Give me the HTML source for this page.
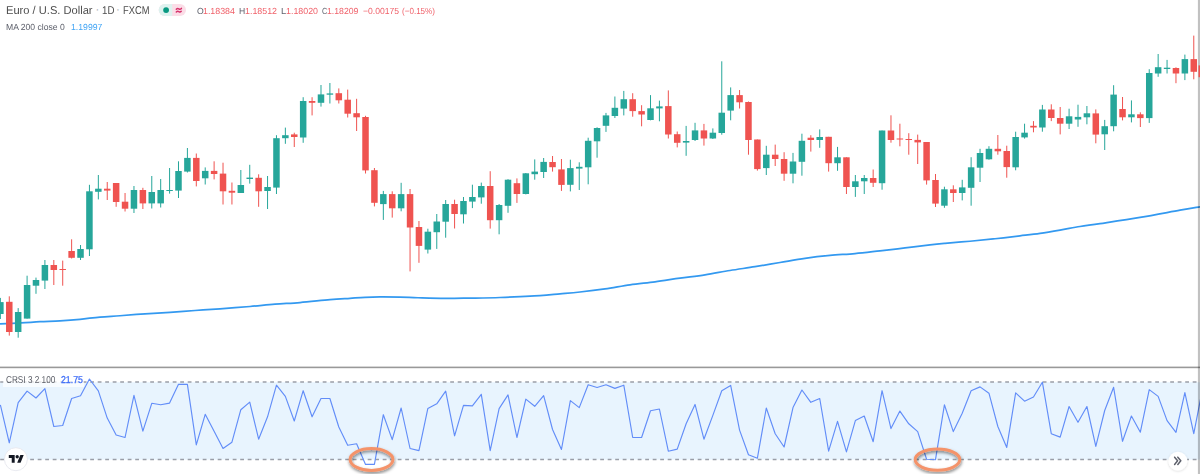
<!DOCTYPE html>
<html><head><meta charset="utf-8">
<style>
html,body{margin:0;padding:0;background:#fff;}
body{width:1200px;height:474px;overflow:hidden;position:relative;font-family:"Liberation Sans",Arial,sans-serif;}
svg{position:absolute;left:0;top:0;}
.t{position:absolute;white-space:nowrap;line-height:1;transform-origin:0 0;text-rendering:geometricPrecision;}
</style></head><body>
<svg width="1200" height="474" viewBox="0 0 1200 474">
<defs>
<filter id="sh" x="-30%" y="-50%" width="160%" height="200%"><feDropShadow dx="0.5" dy="1.8" stdDeviation="1.4" flood-color="#000" flood-opacity="0.5"/></filter>
<filter id="bs" x="-50%" y="-50%" width="200%" height="200%"><feDropShadow dx="0" dy="0.6" stdDeviation="1" flood-color="#000" flood-opacity="0.16"/></filter>
</defs>
<path d="M0 323.8C3.5 323.65 14.33 323.25 21 322.9C27.67 322.55 33.5 322.05 40 321.7C46.5 321.35 53.33 321.2 60 320.8C66.67 320.4 73.33 319.92 80 319.3C86.67 318.68 93.33 317.69 100 317.1C106.67 316.51 112.5 316.3 120 315.75C127.5 315.2 136.67 314.38 145 313.8C153.33 313.23 161.67 312.85 170 312.3C178.33 311.75 186.67 311.08 195 310.5C203.33 309.92 210.83 309.47 220 308.8C229.17 308.13 240.83 307.27 250 306.5C259.17 305.73 266.67 304.85 275 304.2C283.33 303.55 290.83 303.35 300 302.6C309.17 301.85 321.67 300.42 330 299.7C338.33 298.98 344.17 298.7 350 298.3C355.83 297.9 360 297.53 365 297.3C370 297.07 374.17 296.93 380 296.9C385.83 296.87 393.67 296.96 400 297.1C406.33 297.24 410.5 297.53 418 297.75C425.5 297.97 436.33 298.34 445 298.4C453.67 298.46 460.83 298.25 470 298.1C479.17 297.95 490 297.82 500 297.5C510 297.18 520 296.82 530 296.2C540 295.58 551.67 294.5 560 293.8C568.33 293.1 572.5 292.82 580 292C587.5 291.18 596.67 290.09 605 288.9C613.33 287.71 621.67 286.03 630 284.85C638.33 283.67 646.67 282.91 655 281.8C663.33 280.69 671.67 279.37 680 278.2C688.33 277.03 696.67 276.08 705 274.8C713.33 273.52 721.67 271.85 730 270.5C738.33 269.15 746.67 268.03 755 266.7C763.33 265.37 771.67 263.9 780 262.5C788.33 261.1 796.67 259.48 805 258.3C813.33 257.12 821.67 256.18 830 255.4C838.33 254.62 846.67 254.37 855 253.6C863.33 252.83 871.67 251.75 880 250.8C888.33 249.85 896.67 248.9 905 247.9C913.33 246.9 923.33 245.57 930 244.8C936.67 244.03 938.33 243.89 945 243.3C951.67 242.71 961.67 242.01 970 241.25C978.33 240.49 986.67 239.66 995 238.75C1003.33 237.84 1012.5 236.71 1020 235.8C1027.5 234.89 1033.33 234.25 1040 233.3C1046.67 232.35 1053.33 231.23 1060 230.1C1066.67 228.97 1073.33 227.58 1080 226.5C1086.67 225.42 1090 225.12 1100 223.6C1110 222.08 1126.67 219.63 1140 217.4C1153.33 215.17 1170 211.97 1180 210.2C1190 208.43 1196.67 207.37 1200 206.8" fill="none" stroke="#3399f0" stroke-width="1.75"/>
<g shape-rendering="auto"><rect x="-0.13" y="297.9" width="1" height="21.1" fill="#26a69a"/><rect x="-2.88" y="302.1" width="6.5" height="11.9" fill="#26a69a"/><rect x="8.78" y="296.3" width="1" height="39.3" fill="#ef5350"/><rect x="6.03" y="301.8" width="6.5" height="30.2" fill="#ef5350"/><rect x="17.68" y="308.1" width="1" height="29.6" fill="#26a69a"/><rect x="14.93" y="312" width="6.5" height="20" fill="#26a69a"/><rect x="26.59" y="275.7" width="1" height="42.9" fill="#26a69a"/><rect x="23.84" y="285" width="6.5" height="33.6" fill="#26a69a"/><rect x="35.49" y="277.6" width="1" height="16.2" fill="#26a69a"/><rect x="32.74" y="280" width="6.5" height="5.7" fill="#26a69a"/><rect x="44.4" y="260" width="1" height="29" fill="#26a69a"/><rect x="41.65" y="265" width="6.5" height="15.6" fill="#26a69a"/><rect x="53.31" y="260" width="1" height="25" fill="#ef5350"/><rect x="50.56" y="265" width="6.5" height="5" fill="#ef5350"/><rect x="62.21" y="260.6" width="1" height="25.1" fill="#ef5350"/><rect x="59.46" y="269" width="6.5" height="1" fill="#ef5350"/><rect x="71.12" y="239.3" width="1" height="19.2" fill="#ef5350"/><rect x="68.37" y="251" width="6.5" height="6.8" fill="#ef5350"/><rect x="80.02" y="245" width="1" height="15" fill="#26a69a"/><rect x="77.27" y="249" width="6.5" height="8.8" fill="#26a69a"/><rect x="88.93" y="184.8" width="1" height="71.2" fill="#26a69a"/><rect x="86.18" y="191.3" width="6.5" height="58" fill="#26a69a"/><rect x="97.84" y="175" width="1" height="24.4" fill="#26a69a"/><rect x="95.09" y="188.7" width="6.5" height="3.1" fill="#26a69a"/><rect x="106.74" y="182" width="1" height="18" fill="#ef5350"/><rect x="103.99" y="188.7" width="6.5" height="1.9" fill="#ef5350"/><rect x="115.65" y="183" width="1" height="23.8" fill="#ef5350"/><rect x="112.9" y="183" width="6.5" height="19" fill="#ef5350"/><rect x="124.55" y="193" width="1" height="18.5" fill="#ef5350"/><rect x="121.8" y="201.7" width="6.5" height="7" fill="#ef5350"/><rect x="133.46" y="186" width="1" height="27" fill="#26a69a"/><rect x="130.71" y="190" width="6.5" height="18.7" fill="#26a69a"/><rect x="142.37" y="187.8" width="1" height="21.2" fill="#ef5350"/><rect x="139.62" y="190" width="6.5" height="13.4" fill="#ef5350"/><rect x="151.27" y="176" width="1" height="32.5" fill="#26a69a"/><rect x="148.52" y="192" width="6.5" height="11.4" fill="#26a69a"/><rect x="160.18" y="179" width="1" height="28.5" fill="#26a69a"/><rect x="157.43" y="190" width="6.5" height="13.4" fill="#26a69a"/><rect x="169.08" y="168" width="1" height="25.6" fill="#26a69a"/><rect x="166.33" y="190" width="6.5" height="1" fill="#26a69a"/><rect x="177.99" y="161.3" width="1" height="36.7" fill="#26a69a"/><rect x="175.24" y="171" width="6.5" height="19.6" fill="#26a69a"/><rect x="186.9" y="148" width="1" height="24.5" fill="#26a69a"/><rect x="184.15" y="157.9" width="6.5" height="13.7" fill="#26a69a"/><rect x="195.8" y="153.5" width="1" height="32.9" fill="#ef5350"/><rect x="193.05" y="157.9" width="6.5" height="23.1" fill="#ef5350"/><rect x="204.71" y="167.4" width="1" height="17.1" fill="#26a69a"/><rect x="201.96" y="170.9" width="6.5" height="7.4" fill="#26a69a"/><rect x="213.61" y="161.3" width="1" height="18.1" fill="#ef5350"/><rect x="210.86" y="170.9" width="6.5" height="3.1" fill="#ef5350"/><rect x="222.52" y="162.7" width="1" height="41.8" fill="#ef5350"/><rect x="219.77" y="173.6" width="6.5" height="17.7" fill="#ef5350"/><rect x="231.43" y="182.5" width="1" height="22" fill="#ef5350"/><rect x="228.68" y="190.8" width="6.5" height="1.9" fill="#ef5350"/><rect x="240.33" y="170" width="1" height="23" fill="#26a69a"/><rect x="237.58" y="185" width="6.5" height="8" fill="#26a69a"/><rect x="249.24" y="164.8" width="1" height="18.8" fill="#26a69a"/><rect x="246.49" y="177.6" width="6.5" height="1.4" fill="#26a69a"/><rect x="258.14" y="174.3" width="1" height="32.5" fill="#ef5350"/><rect x="255.39" y="177.8" width="6.5" height="13.5" fill="#ef5350"/><rect x="267.05" y="176" width="1" height="33" fill="#26a69a"/><rect x="264.3" y="187" width="6.5" height="4" fill="#26a69a"/><rect x="275.96" y="135.2" width="1" height="58.8" fill="#26a69a"/><rect x="273.21" y="138.2" width="6.5" height="49.4" fill="#26a69a"/><rect x="284.86" y="127.6" width="1" height="16.2" fill="#26a69a"/><rect x="282.11" y="135.2" width="6.5" height="3" fill="#26a69a"/><rect x="293.77" y="132.7" width="1" height="14.3" fill="#ef5350"/><rect x="291.02" y="134.4" width="6.5" height="2.6" fill="#ef5350"/><rect x="302.67" y="97.2" width="1" height="45.6" fill="#26a69a"/><rect x="299.92" y="101" width="6.5" height="36.5" fill="#26a69a"/><rect x="311.58" y="97.2" width="1" height="18.2" fill="#ef5350"/><rect x="308.83" y="101" width="6.5" height="1.8" fill="#ef5350"/><rect x="320.49" y="85" width="1" height="21.6" fill="#26a69a"/><rect x="317.74" y="94.4" width="6.5" height="8.4" fill="#26a69a"/><rect x="329.39" y="83" width="1" height="20.5" fill="#26a69a"/><rect x="326.64" y="93.4" width="6.5" height="1.3" fill="#26a69a"/><rect x="338.3" y="88.4" width="1" height="15.1" fill="#ef5350"/><rect x="335.55" y="93.2" width="6.5" height="7.1" fill="#ef5350"/><rect x="347.2" y="89.6" width="1" height="27.9" fill="#ef5350"/><rect x="344.45" y="99.7" width="6.5" height="14" fill="#ef5350"/><rect x="356.11" y="98.8" width="1" height="32.2" fill="#ef5350"/><rect x="353.36" y="113.2" width="6.5" height="4.1" fill="#ef5350"/><rect x="365.02" y="115.8" width="1" height="57.7" fill="#ef5350"/><rect x="362.27" y="117" width="6.5" height="53.4" fill="#ef5350"/><rect x="373.92" y="168" width="1" height="38.4" fill="#ef5350"/><rect x="371.17" y="170.2" width="6.5" height="32.6" fill="#ef5350"/><rect x="382.83" y="190.9" width="1" height="29" fill="#26a69a"/><rect x="380.08" y="194.1" width="6.5" height="10" fill="#26a69a"/><rect x="391.73" y="191.3" width="1" height="26.3" fill="#ef5350"/><rect x="388.98" y="194.1" width="6.5" height="14.2" fill="#ef5350"/><rect x="400.64" y="182.8" width="1" height="28.5" fill="#26a69a"/><rect x="397.89" y="194.1" width="6.5" height="14.2" fill="#26a69a"/><rect x="409.55" y="189" width="1" height="82.4" fill="#ef5350"/><rect x="406.8" y="194.1" width="6.5" height="33.4" fill="#ef5350"/><rect x="418.45" y="221" width="1" height="41.8" fill="#ef5350"/><rect x="415.7" y="227" width="6.5" height="18.9" fill="#ef5350"/><rect x="427.36" y="228.7" width="1" height="24.8" fill="#26a69a"/><rect x="424.61" y="231.7" width="6.5" height="17.9" fill="#26a69a"/><rect x="436.26" y="214" width="1" height="34.9" fill="#26a69a"/><rect x="433.51" y="221.5" width="6.5" height="10.7" fill="#26a69a"/><rect x="445.17" y="200" width="1" height="37.7" fill="#26a69a"/><rect x="442.42" y="204" width="6.5" height="17.7" fill="#26a69a"/><rect x="454.08" y="199.7" width="1" height="28.8" fill="#ef5350"/><rect x="451.33" y="204" width="6.5" height="10" fill="#ef5350"/><rect x="462.98" y="197" width="1" height="26.5" fill="#26a69a"/><rect x="460.23" y="201" width="6.5" height="13.3" fill="#26a69a"/><rect x="471.89" y="184.7" width="1" height="23.4" fill="#26a69a"/><rect x="469.14" y="197" width="6.5" height="4.6" fill="#26a69a"/><rect x="480.79" y="182.6" width="1" height="21.1" fill="#26a69a"/><rect x="478.04" y="186" width="6.5" height="11.4" fill="#26a69a"/><rect x="489.7" y="171.2" width="1" height="57.4" fill="#ef5350"/><rect x="486.95" y="186" width="6.5" height="34.2" fill="#ef5350"/><rect x="498.61" y="204" width="1" height="30.3" fill="#26a69a"/><rect x="495.86" y="205" width="6.5" height="15.2" fill="#26a69a"/><rect x="507.51" y="179.2" width="1" height="33.6" fill="#26a69a"/><rect x="504.76" y="179.7" width="6.5" height="26.1" fill="#26a69a"/><rect x="516.42" y="178.4" width="1" height="24.5" fill="#ef5350"/><rect x="513.67" y="183.2" width="6.5" height="10.8" fill="#ef5350"/><rect x="525.32" y="173" width="1" height="21.4" fill="#26a69a"/><rect x="522.57" y="173.3" width="6.5" height="20.7" fill="#26a69a"/><rect x="534.23" y="159.4" width="1" height="20.3" fill="#26a69a"/><rect x="531.48" y="171.6" width="6.5" height="2.6" fill="#26a69a"/><rect x="543.14" y="158" width="1" height="20" fill="#26a69a"/><rect x="540.39" y="161.9" width="6.5" height="10.1" fill="#26a69a"/><rect x="552.04" y="156" width="1" height="15.6" fill="#ef5350"/><rect x="549.29" y="162" width="6.5" height="5.2" fill="#ef5350"/><rect x="560.95" y="159" width="1" height="31.9" fill="#ef5350"/><rect x="558.2" y="169.4" width="6.5" height="15.5" fill="#ef5350"/><rect x="569.85" y="159.7" width="1" height="31.7" fill="#26a69a"/><rect x="567.1" y="168.1" width="6.5" height="16.7" fill="#26a69a"/><rect x="578.76" y="162.3" width="1" height="27.7" fill="#26a69a"/><rect x="576.01" y="166.8" width="6.5" height="1.8" fill="#26a69a"/><rect x="587.67" y="137.7" width="1" height="46.6" fill="#26a69a"/><rect x="584.92" y="140.8" width="6.5" height="26.5" fill="#26a69a"/><rect x="596.57" y="127.3" width="1" height="30.4" fill="#26a69a"/><rect x="593.82" y="128" width="6.5" height="13.3" fill="#26a69a"/><rect x="605.48" y="112.9" width="1" height="19" fill="#26a69a"/><rect x="602.73" y="115.4" width="6.5" height="10.4" fill="#26a69a"/><rect x="614.38" y="96.5" width="1" height="21.5" fill="#26a69a"/><rect x="611.63" y="107.8" width="6.5" height="8.2" fill="#26a69a"/><rect x="623.29" y="90.9" width="1" height="24.5" fill="#26a69a"/><rect x="620.54" y="99.2" width="6.5" height="9.4" fill="#26a69a"/><rect x="632.2" y="93.2" width="1" height="23.5" fill="#ef5350"/><rect x="629.45" y="99.2" width="6.5" height="11.9" fill="#ef5350"/><rect x="641.1" y="105.2" width="1" height="21.1" fill="#ef5350"/><rect x="638.35" y="111.1" width="6.5" height="3.4" fill="#ef5350"/><rect x="650.01" y="95.1" width="1" height="25.2" fill="#26a69a"/><rect x="647.26" y="108.3" width="6.5" height="11.7" fill="#26a69a"/><rect x="658.91" y="100.6" width="1" height="20.7" fill="#26a69a"/><rect x="656.16" y="106.4" width="6.5" height="2" fill="#26a69a"/><rect x="667.82" y="90.4" width="1" height="48.1" fill="#ef5350"/><rect x="665.07" y="106.1" width="6.5" height="28.4" fill="#ef5350"/><rect x="676.73" y="131.5" width="1" height="15.9" fill="#ef5350"/><rect x="673.98" y="134.2" width="6.5" height="8.6" fill="#ef5350"/><rect x="685.63" y="125.9" width="1" height="29.9" fill="#26a69a"/><rect x="682.88" y="141" width="6.5" height="1.6" fill="#26a69a"/><rect x="694.54" y="122.8" width="1" height="18.2" fill="#26a69a"/><rect x="691.79" y="130.4" width="6.5" height="9.6" fill="#26a69a"/><rect x="703.44" y="123.9" width="1" height="21.7" fill="#ef5350"/><rect x="700.69" y="130.4" width="6.5" height="8.1" fill="#ef5350"/><rect x="712.35" y="128.4" width="1" height="10.6" fill="#26a69a"/><rect x="709.6" y="132.7" width="6.5" height="5.8" fill="#26a69a"/><rect x="721.26" y="61.3" width="1" height="73.4" fill="#26a69a"/><rect x="718.51" y="112.7" width="6.5" height="20.3" fill="#26a69a"/><rect x="730.16" y="87.4" width="1" height="32.9" fill="#26a69a"/><rect x="727.41" y="95.1" width="6.5" height="15.5" fill="#26a69a"/><rect x="739.07" y="90" width="1" height="18.5" fill="#ef5350"/><rect x="736.32" y="95.1" width="6.5" height="7.2" fill="#ef5350"/><rect x="747.97" y="101.5" width="1" height="53.2" fill="#ef5350"/><rect x="745.22" y="102" width="6.5" height="38" fill="#ef5350"/><rect x="756.88" y="139.5" width="1" height="31.1" fill="#ef5350"/><rect x="754.13" y="139.5" width="6.5" height="29.6" fill="#ef5350"/><rect x="765.79" y="145.8" width="1" height="29.2" fill="#26a69a"/><rect x="763.04" y="154.7" width="6.5" height="13.4" fill="#26a69a"/><rect x="774.69" y="144.6" width="1" height="21.4" fill="#ef5350"/><rect x="771.94" y="154.7" width="6.5" height="4.3" fill="#ef5350"/><rect x="783.6" y="152.2" width="1" height="28.6" fill="#ef5350"/><rect x="780.85" y="159" width="6.5" height="14.7" fill="#ef5350"/><rect x="792.5" y="152.9" width="1" height="30.4" fill="#26a69a"/><rect x="789.75" y="161.5" width="6.5" height="12.2" fill="#26a69a"/><rect x="801.41" y="133.7" width="1" height="42" fill="#26a69a"/><rect x="798.66" y="140.8" width="6.5" height="21" fill="#26a69a"/><rect x="810.32" y="135.2" width="1" height="16.4" fill="#ef5350"/><rect x="807.57" y="137.7" width="6.5" height="2.3" fill="#ef5350"/><rect x="819.22" y="129.4" width="1" height="18.4" fill="#26a69a"/><rect x="816.47" y="137" width="6.5" height="3" fill="#26a69a"/><rect x="828.13" y="136.8" width="1" height="34.8" fill="#ef5350"/><rect x="825.38" y="136.8" width="6.5" height="26.4" fill="#ef5350"/><rect x="837.03" y="146.9" width="1" height="23.9" fill="#26a69a"/><rect x="834.28" y="157.3" width="6.5" height="5.9" fill="#26a69a"/><rect x="845.94" y="157.3" width="1" height="36.7" fill="#ef5350"/><rect x="843.19" y="157.3" width="6.5" height="29.7" fill="#ef5350"/><rect x="854.85" y="175" width="1" height="21.9" fill="#26a69a"/><rect x="852.1" y="181.3" width="6.5" height="5.7" fill="#26a69a"/><rect x="863.75" y="175" width="1" height="19" fill="#26a69a"/><rect x="861" y="178" width="6.5" height="3.3" fill="#26a69a"/><rect x="872.66" y="169.5" width="1" height="17.5" fill="#ef5350"/><rect x="869.91" y="178" width="6.5" height="4.8" fill="#ef5350"/><rect x="881.56" y="130.5" width="1" height="59.2" fill="#26a69a"/><rect x="878.81" y="130.5" width="6.5" height="52.7" fill="#26a69a"/><rect x="890.47" y="115.3" width="1" height="27.4" fill="#ef5350"/><rect x="887.72" y="130.5" width="6.5" height="9.5" fill="#ef5350"/><rect x="899.38" y="123.7" width="1" height="22.6" fill="#ef5350"/><rect x="896.63" y="138.5" width="6.5" height="1" fill="#ef5350"/><rect x="908.28" y="133.2" width="1" height="21.5" fill="#ef5350"/><rect x="905.53" y="139" width="6.5" height="1" fill="#ef5350"/><rect x="917.19" y="134.6" width="1" height="29.4" fill="#ef5350"/><rect x="914.44" y="139.9" width="6.5" height="2.5" fill="#ef5350"/><rect x="926.09" y="142" width="1" height="42.6" fill="#ef5350"/><rect x="923.34" y="142" width="6.5" height="38.4" fill="#ef5350"/><rect x="935" y="174" width="1" height="33" fill="#ef5350"/><rect x="932.25" y="180" width="6.5" height="23.6" fill="#ef5350"/><rect x="943.91" y="186.7" width="1" height="21.1" fill="#26a69a"/><rect x="941.16" y="189.3" width="6.5" height="16.4" fill="#26a69a"/><rect x="952.81" y="185.3" width="1" height="16.7" fill="#ef5350"/><rect x="950.06" y="189.3" width="6.5" height="3.7" fill="#ef5350"/><rect x="961.72" y="179.8" width="1" height="20.6" fill="#26a69a"/><rect x="958.97" y="187.4" width="6.5" height="5.6" fill="#26a69a"/><rect x="970.62" y="157.2" width="1" height="48.5" fill="#26a69a"/><rect x="967.87" y="167.3" width="6.5" height="20.5" fill="#26a69a"/><rect x="979.53" y="148.8" width="1" height="33.2" fill="#26a69a"/><rect x="976.78" y="153" width="6.5" height="14.7" fill="#26a69a"/><rect x="988.44" y="146.2" width="1" height="13.5" fill="#26a69a"/><rect x="985.69" y="148.8" width="6.5" height="10.5" fill="#26a69a"/><rect x="997.34" y="135" width="1" height="19.7" fill="#ef5350"/><rect x="994.59" y="148.8" width="6.5" height="2.5" fill="#ef5350"/><rect x="1006.25" y="145.7" width="1" height="32" fill="#ef5350"/><rect x="1003.5" y="151" width="6.5" height="16.1" fill="#ef5350"/><rect x="1015.15" y="131.7" width="1" height="38.6" fill="#26a69a"/><rect x="1012.4" y="137" width="6.5" height="30.3" fill="#26a69a"/><rect x="1024.06" y="123.7" width="1" height="14.9" fill="#26a69a"/><rect x="1021.31" y="132.7" width="6.5" height="4.7" fill="#26a69a"/><rect x="1032.97" y="121.1" width="1" height="11.2" fill="#ef5350"/><rect x="1030.22" y="125.8" width="6.5" height="1.7" fill="#ef5350"/><rect x="1041.87" y="104.9" width="1" height="26.8" fill="#26a69a"/><rect x="1039.12" y="109.5" width="6.5" height="18" fill="#26a69a"/><rect x="1050.78" y="104.3" width="1" height="16.8" fill="#ef5350"/><rect x="1048.03" y="109.5" width="6.5" height="8.5" fill="#ef5350"/><rect x="1059.68" y="107" width="1" height="27.4" fill="#ef5350"/><rect x="1056.93" y="118" width="6.5" height="5.7" fill="#ef5350"/><rect x="1068.59" y="108.7" width="1" height="20.3" fill="#26a69a"/><rect x="1065.84" y="116.3" width="6.5" height="7.4" fill="#26a69a"/><rect x="1077.5" y="104.7" width="1" height="22.1" fill="#26a69a"/><rect x="1074.75" y="116.9" width="6.5" height="2.6" fill="#26a69a"/><rect x="1086.4" y="106" width="1" height="18.3" fill="#26a69a"/><rect x="1083.65" y="113.3" width="6.5" height="4" fill="#26a69a"/><rect x="1095.31" y="109.4" width="1" height="33.9" fill="#ef5350"/><rect x="1092.56" y="113.4" width="6.5" height="21.2" fill="#ef5350"/><rect x="1104.21" y="119.9" width="1" height="30.1" fill="#26a69a"/><rect x="1101.46" y="126.2" width="6.5" height="8.1" fill="#26a69a"/><rect x="1113.12" y="85.2" width="1" height="46.1" fill="#26a69a"/><rect x="1110.37" y="94.6" width="6.5" height="31.6" fill="#26a69a"/><rect x="1122.03" y="97" width="1" height="23.4" fill="#ef5350"/><rect x="1119.28" y="109" width="6.5" height="8.3" fill="#ef5350"/><rect x="1130.93" y="100.4" width="1" height="22" fill="#26a69a"/><rect x="1128.18" y="114.3" width="6.5" height="3" fill="#26a69a"/><rect x="1139.84" y="112.3" width="1" height="14.7" fill="#ef5350"/><rect x="1137.09" y="114.3" width="6.5" height="3.8" fill="#ef5350"/><rect x="1148.74" y="69.2" width="1" height="53.7" fill="#26a69a"/><rect x="1145.99" y="73" width="6.5" height="45.1" fill="#26a69a"/><rect x="1157.65" y="54" width="1" height="22.8" fill="#26a69a"/><rect x="1154.9" y="67.2" width="6.5" height="6.3" fill="#26a69a"/><rect x="1166.56" y="59.9" width="1" height="13.6" fill="#26a69a"/><rect x="1163.81" y="67.7" width="6.5" height="1.3" fill="#26a69a"/><rect x="1175.46" y="67.3" width="1" height="15.9" fill="#ef5350"/><rect x="1172.71" y="68" width="6.5" height="5.5" fill="#ef5350"/><rect x="1184.37" y="54.6" width="1" height="25.5" fill="#26a69a"/><rect x="1181.62" y="59.1" width="6.5" height="14.4" fill="#26a69a"/><rect x="1193.27" y="35.6" width="1" height="43.7" fill="#ef5350"/><rect x="1190.52" y="59.1" width="6.5" height="12.7" fill="#ef5350"/></g>
<rect x="0" y="366.6" width="1200" height="1.6" fill="#999"/>
<rect x="0" y="382.2" width="1200" height="77.4" fill="#2196f3" fill-opacity="0.1"/>
<line x1="0" y1="382.1" x2="1200" y2="382.1" stroke="#9a9ea8" stroke-width="1.5" stroke-dasharray="3.8 3.7" stroke-dashoffset="-0.2"/>
<line x1="0" y1="459.4" x2="1200" y2="459.4" stroke="#9a9ea8" stroke-width="1.5" stroke-dasharray="3.8 3.7" stroke-dashoffset="-0.2"/>
<rect x="3" y="371" width="81" height="16" fill="#fff" fill-opacity="0.7"/>
<polyline points="0.37,404.8 9.28,442.8 18.18,402.7 27.09,391.1 35.99,398 44.9,388.6 53.81,426.5 62.71,425.5 71.62,398.5 80.52,395.7 89.43,379 98.34,390.9 107.24,418.1 116.15,435 125.05,437.5 133.96,395.3 142.87,431.2 151.77,403.3 160.68,404.8 169.58,403.1 178.49,384.3 187.4,384.3 196.3,444.9 205.21,414.3 214.11,431.2 223.02,448.5 231.93,442.2 240.83,409.7 249.74,402.1 258.64,439.2 267.55,416.8 276.46,385.2 285.36,396.4 294.27,421 303.17,390.7 312.08,416.8 320.99,398.5 329.89,398.5 338.8,427 347.7,445.3 356.61,443.8 365.52,464.4 374.42,464.4 383.33,414.7 392.23,439.6 401.14,408 410.05,448.5 418.95,450.6 427.86,408.4 436.76,403.8 445.67,391.1 454.58,435.8 463.48,405.4 472.39,405.9 481.29,394.3 490.2,450.6 499.11,408.6 508.01,394.9 516.92,437.5 525.82,399.1 534.73,406.3 543.64,395.7 552.54,429.5 561.45,449.5 570.35,400.6 579.26,407.6 588.17,384.8 597.07,387.5 605.98,384.8 614.88,388.4 623.79,385.2 632.7,437.5 641.6,437.5 650.51,410.7 659.41,409 668.32,451.2 677.23,449.1 686.13,423.8 695.04,404.4 703.94,439.2 712.85,415.4 721.76,390.7 730.66,385.4 739.57,430.1 748.47,454.8 757.38,458.2 766.29,408 775.19,433.7 784.1,447 793,407.6 801.91,390 810.82,402.3 819.72,398.5 828.63,451.2 837.53,421.3 846.44,451.9 855.35,420.6 864.25,416 873.16,441.7 882.06,390.7 890.97,428.6 899.88,411.1 908.78,423.8 917.69,431.6 926.59,459.2 935.5,459.7 944.41,404.8 953.31,431.6 962.22,413.2 971.12,390.7 980.03,386.9 988.94,393.2 997.84,426.5 1006.75,447.4 1015.65,392.8 1024.56,401.2 1033.47,397 1042.37,382.2 1051.28,433.7 1060.18,437.1 1069.09,406.5 1078,422.3 1086.9,406.5 1095.81,446.4 1104.71,410.5 1113.62,387.3 1122.53,441.3 1131.43,416 1140.34,432.2 1149.24,389.6 1158.15,396.4 1167.06,420.6 1175.96,432.4 1184.87,392.6 1193.77,433.7 1202.68,388" fill="none" stroke="#628df8" stroke-width="1.15" stroke-linejoin="round"/>
<g filter="url(#sh)" fill="none" stroke="#f4936b" stroke-width="3">
<ellipse cx="371.5" cy="459.5" rx="21.4" ry="10.9"/>
<ellipse cx="937.5" cy="459.6" rx="22.3" ry="10.6"/>
</g>
<circle cx="15.9" cy="459.2" r="11.5" fill="#fff" stroke="#e6e8ee" stroke-width="0.9"/>
<g transform="translate(8.8,453.4) scale(0.42)" fill="#131722"><path d="M14 22H7V11H0V4h14v18zM28 22h-8l7.5-18h8L28 22z"/><circle cx="20" cy="8" r="4"/></g>
<circle cx="1177.9" cy="461.2" r="9.4" fill="#fff" filter="url(#bs)"/>
<path d="M1174.6 457.2l3 3.6-3 3.6M1177.8 457.2l3 3.6-3 3.6" fill="none" stroke="#5d606b" stroke-width="1.5" stroke-linecap="round" stroke-linejoin="round"/>
<rect x="158.7" y="4" width="27.3" height="12.1" rx="6.05" fill="#fbdde7"/>
<path d="M164.75 4h7.45v12.1h-7.45a6.05 6.05 0 0 1 0-12.1z" fill="#def2ef"/>
<circle cx="166.1" cy="10.1" r="2.9" fill="#089981"/>
<rect x="1197.9" y="0" width="2.1" height="474" fill="#000" fill-opacity="0.245"/>
<rect x="1198.5" y="65.4" width="1.5" height="11.8" fill="#ef5350"/>
<path d="M176.3 9.2C177.2 8.2 178.1 8.3 178.8 8.8S180.5 9.4 181.4 8.4M176.3 12C177.2 11 178.1 11.1 178.8 11.6S180.5 12.2 181.2 11.3" fill="none" stroke="#d6336c" stroke-width="1.5" stroke-linecap="round"/>
</svg>
<div class="t" id="title" style="left:6.37px;top:6.40px;font-size:11.4px;color:#4d4d4d;font-weight:normal;transform:scale(0.9762,1)">Euro / U.S. Dollar</div>
<div class="t" id="tf" style="left:101.87px;top:6.40px;font-size:11.4px;color:#4d4d4d;font-weight:normal;transform:scale(0.8525,1)">1D</div>
<div class="t" id="ex" style="left:122.80px;top:6.40px;font-size:11.4px;color:#4d4d4d;font-weight:normal;transform:scale(0.8188,1)">FXCM</div>
<div class="t" id="o" style="left:197.08px;top:7.15px;font-size:8.8px;color:#60636e;font-weight:normal;transform:scale(0.9821,1)">O</div>
<div class="t" id="ov" style="left:203.33px;top:7.15px;font-size:8.8px;color:#f0616a;font-weight:normal;transform:scale(1.0047,1)">1.18384</div>
<div class="t" id="h" style="left:238.90px;top:7.15px;font-size:8.8px;color:#60636e;font-weight:normal;transform:scale(0.9793,1)">H</div>
<div class="t" id="hv" style="left:245.13px;top:7.15px;font-size:8.8px;color:#f0616a;font-weight:normal;transform:scale(1.0055,1)">1.18512</div>
<div class="t" id="l" style="left:280.64px;top:7.15px;font-size:8.8px;color:#60636e;font-weight:normal;transform:scale(1.0636,1)">L</div>
<div class="t" id="lv" style="left:285.73px;top:7.15px;font-size:8.8px;color:#f0616a;font-weight:normal;transform:scale(1.0054,1)">1.18020</div>
<div class="t" id="c" style="left:321.82px;top:7.15px;font-size:8.8px;color:#60636e;font-weight:normal;transform:scale(0.8379,1)">C</div>
<div class="t" id="cv" style="left:327.14px;top:7.15px;font-size:8.8px;color:#f0616a;font-weight:normal;transform:scale(0.9895,1)">1.18209</div>
<div class="t" id="chg" style="left:362.91px;top:7.15px;font-size:8.8px;color:#f0616a;font-weight:normal;transform:scale(0.9788,1)">−0.00175</div>
<div class="t" id="pct" style="left:402.11px;top:7.15px;font-size:8.8px;color:#f0616a;font-weight:normal;transform:scale(0.9171,1)">(−0.15%)</div>
<div class="t" id="ma" style="left:6.10px;top:22.95px;font-size:8.8px;color:#5a5d68;font-weight:normal;transform:scale(0.9773,1)">MA 200 close 0</div>
<div class="t" id="mav" style="left:70.94px;top:22.95px;font-size:8.8px;color:#42a5f5;font-weight:normal;transform:scale(0.9875,1)">1.19997</div>
<div class="t" id="crsi" style="left:6.32px;top:375.53px;font-size:10.0px;color:#5a5d66;font-weight:normal;transform:scale(0.8209,1)">CRSI 3 2 100</div>
<div class="t" id="crsiv" style="left:60.77px;top:375.53px;font-size:10.0px;color:#3f6ef8;font-weight:normal;-webkit-text-stroke:0.3px #3f6ef8;transform:scale(0.8757,1)">21.75</div>
<div class="t" id="d1" style="left:95.4px;top:4.6px;font-size:11.4px;color:#9ea2aa;">·</div>
<div class="t" id="d2" style="left:116.1px;top:4.6px;font-size:11.4px;color:#9ea2aa;">·</div>
</body></html>
